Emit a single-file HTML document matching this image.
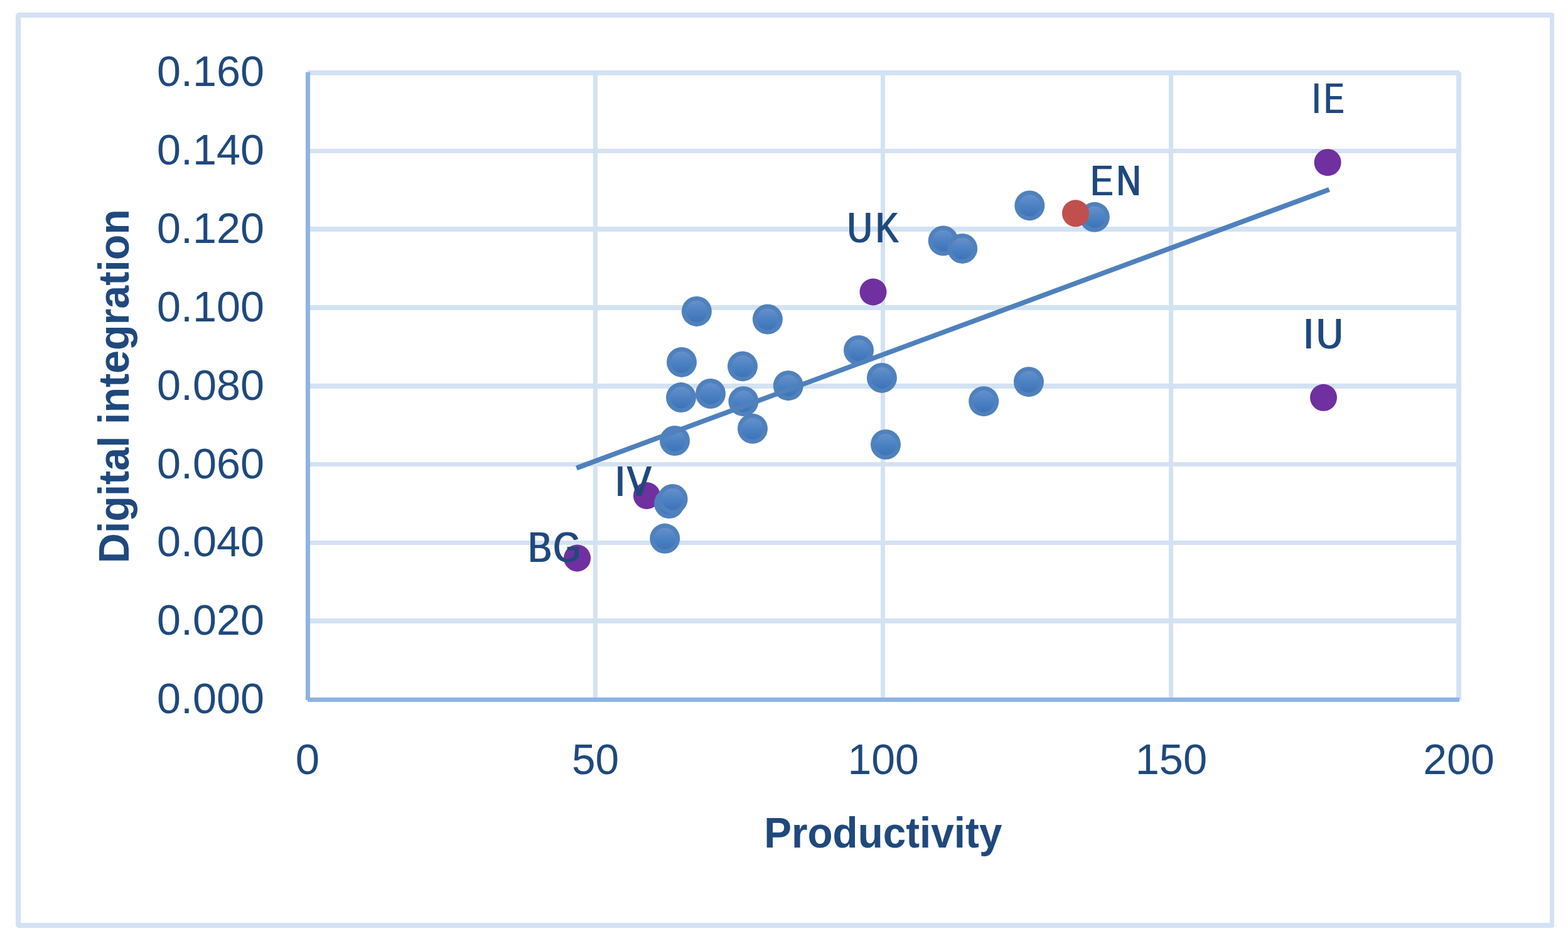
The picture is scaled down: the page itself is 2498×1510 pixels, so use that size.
<!DOCTYPE html>
<html lang="en"><head><meta charset="utf-8"><title>Digital integration vs Productivity</title>
<style>html,body{margin:0;padding:0;background:#fff;overflow:hidden}svg{display:block}text{font-family:"Liberation Sans",Arial,sans-serif}</style>
</head><body>
<svg width="2498" height="1510" viewBox="0 0 2498 1510">
<defs><linearGradient id="bg" x1="0" y1="0" x2="0" y2="1"><stop offset="0" stop-color="#6790C9"/><stop offset="0.5" stop-color="#4C82C4"/><stop offset="1" stop-color="#3D74B7"/></linearGradient><filter id="w" color-interpolation-filters="sRGB" x="-20%" y="-20%" width="140%" height="140%"><feMorphology operator="dilate" radius="1 0"/></filter></defs>
<rect width="2498" height="1510" fill="#fff"/>
<g fill="#D3E2F3" shape-rendering="crispEdges">
<path fill-rule="evenodd" d="M28 20H2473L2476 23V1475L2473 1478H28L25 1475V23Z M33 28H2469V1470H33Z"/>
<rect x="490" y="112" width="1835" height="8"/>
<rect x="490" y="237" width="1835" height="7"/>
<rect x="490" y="361" width="1835" height="8"/>
<rect x="490" y="486" width="1835" height="8"/>
<rect x="490" y="611" width="1835" height="8"/>
<rect x="490" y="736" width="1835" height="7"/>
<rect x="490" y="861" width="1835" height="7"/>
<rect x="490" y="985" width="1835" height="8"/>
<rect x="945" y="115" width="7" height="1000"/>
<rect x="1403" y="115" width="7" height="1000"/>
<rect x="1862" y="115" width="7" height="1000"/>
<rect x="2320" y="115" width="8" height="1000"/>
</g>
<g fill="#8EB3E2" shape-rendering="crispEdges">
<rect x="487" y="115" width="7" height="1000"/>
<rect x="490" y="1111" width="1835" height="7"/>
</g>
<g>
<circle cx="2115.1" cy="258.7" r="21.5" fill="#7030A0"/>
<circle cx="1391" cy="465" r="21.5" fill="#7030A0"/>
<circle cx="2108.5" cy="633.3" r="21.5" fill="#7030A0"/>
<circle cx="1030.4" cy="789.5" r="21.5" fill="#7030A0"/>
<circle cx="919.6" cy="888.9" r="21.5" fill="#7030A0"/>
<circle cx="1743.8" cy="345.8" r="24" fill="#4F81BD"/><circle cx="1743.8" cy="345.8" r="17.1" fill="url(#bg)"/>
<circle cx="1640.3" cy="327.4" r="24" fill="#4F81BD"/><circle cx="1640.3" cy="327.4" r="17.1" fill="url(#bg)"/>
<circle cx="1502.7" cy="383.5" r="24" fill="#4F81BD"/><circle cx="1502.7" cy="383.5" r="17.1" fill="url(#bg)"/>
<circle cx="1533.2" cy="395.9" r="24" fill="#4F81BD"/><circle cx="1533.2" cy="395.9" r="17.1" fill="url(#bg)"/>
<circle cx="1109.9" cy="495.9" r="24" fill="#4F81BD"/><circle cx="1109.9" cy="495.9" r="17.1" fill="url(#bg)"/>
<circle cx="1222.9" cy="508.5" r="24" fill="#4F81BD"/><circle cx="1222.9" cy="508.5" r="17.1" fill="url(#bg)"/>
<circle cx="1368" cy="557.9" r="24" fill="#4F81BD"/><circle cx="1368" cy="557.9" r="17.1" fill="url(#bg)"/>
<circle cx="1086" cy="576.9" r="24" fill="#4F81BD"/><circle cx="1086" cy="576.9" r="17.1" fill="url(#bg)"/>
<circle cx="1183" cy="583.4" r="24" fill="#4F81BD"/><circle cx="1183" cy="583.4" r="17.1" fill="url(#bg)"/>
<circle cx="1404.9" cy="601.9" r="24" fill="#4F81BD"/><circle cx="1404.9" cy="601.9" r="17.1" fill="url(#bg)"/>
<circle cx="1638.9" cy="608.2" r="24" fill="#4F81BD"/><circle cx="1638.9" cy="608.2" r="17.1" fill="url(#bg)"/>
<circle cx="1255.8" cy="614.2" r="24" fill="#4F81BD"/><circle cx="1255.8" cy="614.2" r="17.1" fill="url(#bg)"/>
<circle cx="1132" cy="627" r="24" fill="#4F81BD"/><circle cx="1132" cy="627" r="17.1" fill="url(#bg)"/>
<circle cx="1085" cy="633.1" r="24" fill="#4F81BD"/><circle cx="1085" cy="633.1" r="17.1" fill="url(#bg)"/>
<circle cx="1184.4" cy="639.2" r="24" fill="#4F81BD"/><circle cx="1184.4" cy="639.2" r="17.1" fill="url(#bg)"/>
<circle cx="1567.2" cy="639.2" r="24" fill="#4F81BD"/><circle cx="1567.2" cy="639.2" r="17.1" fill="url(#bg)"/>
<circle cx="1199" cy="682.8" r="24" fill="#4F81BD"/><circle cx="1199" cy="682.8" r="17.1" fill="url(#bg)"/>
<circle cx="1075" cy="702" r="24" fill="#4F81BD"/><circle cx="1075" cy="702" r="17.1" fill="url(#bg)"/>
<circle cx="1411" cy="708" r="24" fill="#4F81BD"/><circle cx="1411" cy="708" r="17.1" fill="url(#bg)"/>
<circle cx="1066.1" cy="802" r="24" fill="#4F81BD"/><circle cx="1066.1" cy="802" r="17.1" fill="url(#bg)"/>
<circle cx="1071.6" cy="794.9" r="24" fill="#4F81BD"/><circle cx="1071.6" cy="794.9" r="17.1" fill="url(#bg)"/>
<circle cx="1059.2" cy="857.8" r="24" fill="#4F81BD"/><circle cx="1059.2" cy="857.8" r="17.1" fill="url(#bg)"/>
<circle cx="1713.5" cy="339.8" r="21.5" fill="#C0504D"/>
</g>
<line x1="918.4" y1="745.5" x2="2117.6" y2="301.8" stroke="#4F81BD" stroke-width="7.8" stroke-linecap="butt"/>
<g fill="#1F497D">
<text transform="matrix(0.6833 0 0 0.6930 250.07 137.31)" font-size="100">0.160</text>
<text transform="matrix(0.6833 0 0 0.6930 250.07 262.16)" font-size="100">0.140</text>
<text transform="matrix(0.6833 0 0 0.6930 250.07 387.01)" font-size="100">0.120</text>
<text transform="matrix(0.6833 0 0 0.6930 250.07 511.86)" font-size="100">0.100</text>
<text transform="matrix(0.6833 0 0 0.6930 250.07 636.71)" font-size="100">0.080</text>
<text transform="matrix(0.6833 0 0 0.6930 250.07 761.56)" font-size="100">0.060</text>
<text transform="matrix(0.6833 0 0 0.6930 250.07 886.41)" font-size="100">0.040</text>
<text transform="matrix(0.6833 0 0 0.6930 250.07 1011.26)" font-size="100">0.020</text>
<text transform="matrix(0.6833 0 0 0.6930 250.07 1136.11)" font-size="100">0.000</text>
<text transform="matrix(0.6905 0 0 0.6930 470.64 1233.41)" font-size="100">0</text>
<text transform="matrix(0.6754 0 0 0.6930 910.9 1233.41)" font-size="100">50</text>
<text transform="matrix(0.6797 0 0 0.6930 1350.5 1233.41)" font-size="100">100</text>
<text transform="matrix(0.6868 0 0 0.6930 1808.65 1233.41)" font-size="100">150</text>
<text transform="matrix(0.6797 0 0 0.6930 2267.3 1233.41)" font-size="100">200</text>
<g filter="url(#w)">
<text transform="matrix(0.4672 0 0 0.6913 2090.8 179.9)" font-size="100" x="0 40.68">IE</text>
<text transform="matrix(0.5367 0 0 0.6812 1737.61 310.9)" font-size="100" x="0 76.86">EN</text>
<text transform="matrix(0.5528 0 0 0.6899 1349.75 385.9)" font-size="100" x="0 81.64">UK</text>
<text transform="matrix(0.5895 0 0 0.6913 2076.59 555)" font-size="100" x="0 34.75">IU</text>
<text transform="matrix(0.5720 0 0 0.6928 980.05 789.9)" font-size="100" x="0 33.73">IV</text>
<text transform="matrix(0.5622 0 0 0.6884 841.5 895.2)" font-size="100" x="0 71.09">BG</text>
</g>
</g>
<g fill="#1F497D" font-weight="bold">
<text transform="matrix(0.6566 0 0 0.6899 1217.13 1350.3)" font-size="100">Productivity</text>
<text transform="matrix(0 -0.6636 0.6797 0 205.1 897.21)" font-size="100">Digital integration</text>
</g>
</svg>
</body></html>
